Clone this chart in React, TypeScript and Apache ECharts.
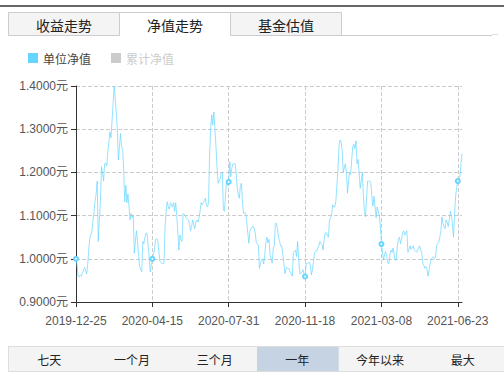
import React, { useEffect, useRef } from "react";
import * as echarts from "echarts";

// Closed weekdays (exchange holidays) used to list trading days
const holidays: string[] = [
  "2020-01-01", "2020-01-24", "2020-01-27", "2020-01-28", "2020-01-29", "2020-01-30", "2020-01-31",
  "2020-04-03", "2020-05-01", "2020-05-04", "2020-05-05", "2020-06-25", "2020-06-26",
  "2020-10-01", "2020-10-02", "2020-10-05", "2020-10-06", "2020-10-07", "2020-10-08",
  "2021-01-01", "2021-02-11", "2021-02-12", "2021-02-15", "2021-02-16", "2021-02-17",
  "2021-04-05", "2021-05-03", "2021-05-04", "2021-05-05", "2021-06-14",
];
const startDate = "2019-12-25";
const endDate = "2021-06-29";

const unitNav: number[] = [
  1.000, 0.985, 0.960, 0.958, 0.962, 0.960, 0.968, 0.972, 0.980, 0.975,
  0.965, 0.985, 1.020, 1.048, 1.055, 1.065, 1.090, 1.108, 1.135, 1.150,
  1.180, 1.040, 1.090, 1.130, 1.213, 1.200, 1.180, 1.220, 1.222, 1.215,
  1.248, 1.270, 1.294, 1.280, 1.320, 1.360, 1.400, 1.370, 1.337, 1.298,
  1.229, 1.260, 1.290, 1.260, 1.255, 1.200, 1.132, 1.170, 1.130, 1.150,
  1.120, 1.090, 1.105, 1.095, 1.100, 1.013, 1.040, 1.065, 1.042, 1.010,
  0.982, 0.975, 0.970, 1.040, 1.035, 1.050, 1.060, 1.058, 1.030, 1.003,
  0.970, 0.985, 1.000, 1.010, 1.020, 1.045, 1.046, 1.045, 1.020, 0.995,
  0.992, 0.990, 0.988, 0.990, 1.074, 1.110, 1.132, 1.120, 1.115, 1.130,
  1.125, 1.120, 1.130, 1.110, 1.130, 1.100, 1.065, 1.020, 1.055, 1.045,
  1.040, 1.105, 1.102, 1.100, 1.095, 1.092, 1.090, 1.080, 1.065, 1.075,
  1.090, 1.080, 1.070, 1.085, 1.090, 1.085, 1.095, 1.110, 1.130, 1.125,
  1.130, 1.135, 1.140, 1.125, 1.120, 1.130, 1.245, 1.300, 1.333, 1.310,
  1.340, 1.300, 1.260, 1.213, 1.175, 1.180, 1.185, 1.200, 1.200, 1.113,
  1.110, 1.150, 1.180, 1.170, 1.178, 1.225, 1.190, 1.210, 1.220, 1.220,
  1.220, 1.200, 1.165, 1.150, 1.140, 1.168, 1.175, 1.130, 1.105, 1.108,
  1.105, 1.085, 1.060, 1.036, 1.065, 1.070, 1.072, 1.076, 1.070, 1.060,
  1.037, 1.035, 1.030, 0.978, 0.990, 0.997, 1.000, 0.988, 1.010, 1.037,
  1.050, 1.037, 1.045, 1.010, 1.000, 0.990, 1.025, 1.030, 1.082, 1.082,
  1.070, 1.050, 1.040, 1.030, 1.030, 1.010, 0.990, 0.966, 0.975, 0.980,
  0.978, 0.977, 0.970, 0.965, 0.960, 1.015, 1.018, 1.020, 1.005, 1.040,
  1.000, 0.966, 0.966, 0.970, 0.975, 0.965, 0.959, 0.988, 0.990, 0.990,
  0.992, 0.985, 0.963, 0.975, 0.995, 1.015, 1.018, 1.018, 1.025, 1.030,
  1.040, 1.036, 1.033, 1.020, 1.045, 1.060, 1.060, 1.055, 1.050, 1.088,
  1.095, 1.100, 1.125, 1.120, 1.120, 1.132, 1.170, 1.206, 1.260, 1.275,
  1.270, 1.250, 1.200, 1.210, 1.220, 1.200, 1.152, 1.180, 1.200, 1.195,
  1.230, 1.260, 1.265, 1.255, 1.273, 1.220, 1.230, 1.200, 1.163, 1.180,
  1.200, 1.145, 1.110, 1.097, 1.140, 1.180, 1.180, 1.180, 1.177, 1.145,
  1.122, 1.145, 1.120, 1.095, 1.120, 1.110, 1.100, 1.076, 1.034, 1.015,
  0.997, 1.010, 1.017, 1.005, 0.990, 0.988, 1.010, 1.020, 1.015, 1.025,
  1.010, 0.997, 0.997, 1.030, 1.045, 1.050, 1.035, 1.045, 1.060, 1.065,
  1.055, 1.060, 1.065, 1.015, 1.020, 1.030, 1.022, 1.025, 1.030, 1.020,
  1.018, 1.015, 1.020, 1.025, 1.030, 1.020, 1.015, 0.990, 0.985, 0.978,
  0.982, 0.975, 0.960, 0.975, 0.990, 1.000, 1.002, 1.005, 1.000, 1.002,
  1.030, 1.035, 1.037, 1.050, 1.060, 1.097, 1.082, 1.075, 1.070, 1.090,
  1.085, 1.075, 1.090, 1.110, 1.100, 1.080, 1.050, 1.105, 1.145, 1.165,
  1.180, 1.175, 1.190, 1.220, 1.244,
];
const cumNav: number[] = [];

const tabLabels = ["收益走势", "净值走势", "基金估值"];
const rangeLabels = ["七天", "一个月", "三个月", "一年", "今年以来", "最大"];
const legendNames = ["单位净值", "累计净值"];
const yMin = 0.9;
const yMax = 1.4;
const yStep = 0.1;
const labelEvery = 72;

function tradingDays(from: string, to: string, closed: string[]): string[] {
  const out: string[] = [];
  const set = new Set(closed);
  const d = new Date(from + "T00:00:00Z");
  const end = new Date(to + "T00:00:00Z");
  while (d.getTime() <= end.getTime()) {
    const wd = d.getUTCDay();
    const s = d.toISOString().slice(0, 10);
    if (wd !== 0 && wd !== 6 && !set.has(s)) out.push(s);
    d.setUTCDate(d.getUTCDate() + 1);
  }
  return out;
}

const CJK = '"Noto Sans CJK SC", "Microsoft YaHei", sans-serif';
const AXF = '"Liberation Sans", Arial, "Noto Sans CJK SC", sans-serif';

export default function App() {
  const ref = useRef<HTMLDivElement>(null);
  useEffect(() => {
    if (!ref.current) return;
    const chart = echarts.init(ref.current, null, { renderer: "svg" });
    const dates = tradingDays(startDate, endDate, holidays).slice(0, unitNav.length);

    const tabW = 111;
    const tabX0 = 8;
    const graphics: any[] = [
      { type: "rect", shape: { x: 0, y: 5, width: 504, height: 2 }, style: { fill: "#666" }, silent: true },
    ];
    tabLabels.forEach((t, k) => {
      const x = tabX0 + k * tabW;
      if (k !== 1) {
        graphics.push({
          type: "rect",
          shape: { x: x + 0.5, y: 12.5, width: tabW, height: 23 },
          style: { fill: "#f4f4f4", stroke: "#ccc", lineWidth: 1 },
          silent: true,
        });
      } else {
        graphics.push({
          type: "line",
          shape: { x1: x + 0.5, y1: 12.5, x2: x + tabW + 0.5, y2: 12.5 },
          style: { stroke: "#ccc", lineWidth: 1 },
          silent: true,
        });
      }
      graphics.push({
        type: "text",
        x: x + tabW / 2 + 0.5,
        y: 25,
        style: { text: t, fill: "#222", fontSize: 14, fontFamily: CJK, align: "center", verticalAlign: "middle" },
        silent: true,
      });
    });
    graphics.push({
      type: "line",
      shape: { x1: tabX0 + 3 * tabW + 0.5, y1: 35.5, x2: 492, y2: 35.5 },
      style: { stroke: "#ccc", lineWidth: 1 },
      silent: true,
    });
    graphics.push({
      type: "line",
      shape: { x1: 492, y1: 34.5, x2: 498, y2: 34.5 },
      style: { stroke: "#ddd", lineWidth: 1 },
      silent: true,
    });

    const barX = 8;
    const barW = 496;
    const btnW = barW / rangeLabels.length;
    graphics.push({
      type: "rect",
      shape: { x: barX + 0.5, y: 346.5, width: barW, height: 25 },
      style: { fill: "#f4f4f4", stroke: "#ddd", lineWidth: 1 },
      silent: true,
    });
    rangeLabels.forEach((t, k) => {
      const x = barX + k * btnW;
      if (k === 3) {
        graphics.push({
          type: "rect",
          shape: { x: x + 1, y: 347, width: btnW - 1, height: 24 },
          style: { fill: "#c5d3e3" },
          silent: true,
        });
      }
      graphics.push({
        type: "text",
        x: x + btnW / 2,
        y: 359.5,
        style: { text: t, fill: "#222", fontSize: 12, fontFamily: CJK, align: "center", verticalAlign: "middle" },
        silent: true,
      });
    });

    chart.setOption({
      animation: false,
      backgroundColor: "#fff",
      legend: {
        data: legendNames,
        left: 23,
        top: 47,
        icon: "rect",
        itemWidth: 10,
        itemHeight: 10,
        itemGap: 20,
        selected: { [legendNames[0]]: true, [legendNames[1]]: false },
        inactiveColor: "#ccc",
        textStyle: { color: "#444", fontSize: 12, fontFamily: CJK },
      },
      grid: { left: 76, right: 42, top: 86, bottom: 79, containLabel: false },
      xAxis: {
        type: "category",
        data: dates,
        boundaryGap: false,
        axisLine: { lineStyle: { color: "#333", width: 1 } },
        axisTick: { show: true, interval: labelEvery - 1, length: 5, lineStyle: { color: "#333" } },
        axisLabel: { interval: labelEvery - 1, color: "#555", fontSize: 12, fontFamily: AXF, margin: 13 },
        splitLine: { show: true, interval: labelEvery - 1, lineStyle: { color: "#ccc", type: "dashed" } },
      },
      yAxis: {
        type: "value",
        min: yMin,
        max: yMax,
        interval: yStep,
        axisLine: { show: true, lineStyle: { color: "#333", width: 1 } },
        axisTick: { show: true, length: 5, lineStyle: { color: "#333" } },
        axisLabel: {
          color: "#555",
          fontSize: 12,
          fontFamily: AXF,
          margin: 8,
          formatter: (v: number) => v.toFixed(4) + "元",
        },
        splitLine: { show: true, lineStyle: { color: "#ccc", type: "dashed" } },
      },
      series: [
        {
          name: legendNames[0],
          type: "line",
          data: unitNav,
          color: "#66d5ff",
          symbol: "emptyCircle",
          symbolSize: 4,
          showAllSymbol: "auto",
          lineStyle: { width: 1, color: "#66d5ff", opacity: 0.7 },
          itemStyle: { color: "#66d5ff", borderWidth: 1 },
        },
        {
          name: legendNames[1],
          type: "line",
          data: cumNav,
          color: "#c8c8c8",
          symbol: "emptyCircle",
          lineStyle: { width: 1 },
        },
      ],
      graphic: graphics,
    });
    return () => chart.dispose();
  }, []);
  return <div ref={ref} style={{ position: "absolute", left: 0, top: 0, width: 504, height: 381 }} />;
}
